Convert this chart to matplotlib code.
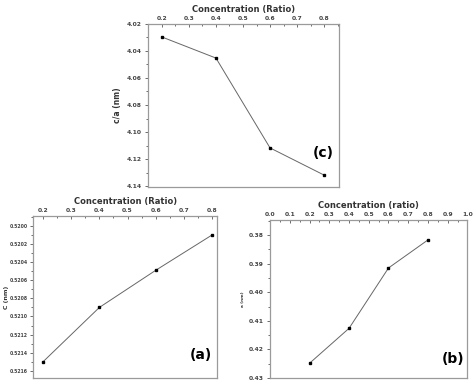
import matplotlib.pyplot as plt
from matplotlib.ticker import MultipleLocator

# concentration values shared by the three panels
conc = [0.2, 0.4, 0.6, 0.8]

# panel (a): lattice parameter c
c_vals = [0.52150, 0.52090, 0.52049, 0.52010]
c_ticks = [0.5200, 0.5202, 0.5204, 0.5206, 0.5208, 0.5210, 0.5212, 0.5214, 0.5216]

# panel (b): lattice parameter a
a_vals = [0.4248, 0.4126, 0.3915, 0.3817]
a_ticks = [0.38, 0.39, 0.40, 0.41, 0.42, 0.43]

# panel (c): c/a
ca_vals = [4.0297, 4.0453, 4.1117, 4.1318]
ca_ticks = [4.02, 4.04, 4.06, 4.08, 4.10, 4.12, 4.14]

x_ticks_short = [0.2, 0.3, 0.4, 0.5, 0.6, 0.7, 0.8]
x_ticks_long = [0.0, 0.1, 0.2, 0.3, 0.4, 0.5, 0.6, 0.7, 0.8, 0.9, 1.0]

SPINE = "#9a9a9a"


def style_panel(ax, xlabel, ylabel, xticks, yticks, fmt, label, label_pos):
    ax.xaxis.tick_top()
    ax.xaxis.set_label_position("top")
    ax.set_xticks(xticks)
    ax.set_xticklabels(["%.1f" % t for t in xticks])
    ax.set_yticks(yticks)
    ax.set_yticklabels([fmt % t for t in yticks])
    ax.invert_yaxis()
    ax.xaxis.set_minor_locator(MultipleLocator((xticks[1] - xticks[0]) / 2))
    ax.yaxis.set_minor_locator(MultipleLocator((yticks[1] - yticks[0]) / 2))
    ax.tick_params(axis="x", which="both", direction="in", labelsize=4.3,
                   pad=2, length=2.5, width=0.6, color="#555555")
    ax.tick_params(axis="x", which="minor", length=1.5)
    ax.tick_params(axis="y", which="both", direction="out", labelsize=4.3,
                   pad=2, length=2.5, width=0.6, color="#555555")
    ax.tick_params(axis="y", which="minor", length=1.5)
    for lab in ax.get_xticklabels() + ax.get_yticklabels():
        lab.set_fontweight("bold")
        lab.set_color("#444444")
    for s in ax.spines.values():
        s.set_color(SPINE)
        s.set_linewidth(0.9)
    ax.set_xlabel(xlabel, fontsize=6, fontweight="bold", color="#333333",
                  labelpad=3)
    ax.set_ylabel(ylabel, fontsize=5.5, fontweight="bold", color="#333333",
                  labelpad=3)
    ax.text(label_pos[0], label_pos[1], label, transform=ax.transAxes,
            fontsize=10, fontweight="bold", ha="center", va="center")


fig = plt.figure(figsize=(4.74, 3.85), dpi=100)

ax_c = fig.add_axes([0.312, 0.514, 0.403, 0.424])
ax_c.plot(conc, ca_vals, color="#666666", lw=0.7, marker="s", ms=1.8,
          mfc="black", mec="black")
ax_c.set_xlim(0.148, 0.855)
ax_c.set_ylim(4.02, 4.1407)
style_panel(ax_c, "Concentration (Ratio)", "c/a (nm)", x_ticks_short,
            ca_ticks, "%.2f", "(c)", (0.92, 0.21))

ax_a = fig.add_axes([0.070, 0.018, 0.388, 0.421])
ax_a.plot(conc, c_vals, color="#666666", lw=0.7, marker="s", ms=1.8,
          mfc="black", mec="black")
ax_a.set_xlim(0.165, 0.818)
ax_a.set_ylim(0.51989, 0.52168)
style_panel(ax_a, "Concentration (Ratio)", "C (nm)", x_ticks_short,
            c_ticks, "%.4f", "(a)", (0.91, 0.14))
ax_a.tick_params(axis="y", labelsize=3.3, pad=1.5)
ax_a.yaxis.label.set_fontsize(4.5)
ax_a.yaxis.set_label_coords(-0.13, 0.5)

ax_b = fig.add_axes([0.570, 0.018, 0.416, 0.410])
ax_b.plot(conc, a_vals, color="#666666", lw=0.7, marker="s", ms=1.8,
          mfc="black", mec="black")
ax_b.set_xlim(0.0, 1.0)
ax_b.set_ylim(0.3748, 0.4297)
style_panel(ax_b, "Concentration (ratio)", "a (nm)", x_ticks_long,
            a_ticks, "%.2f", "(b)", (0.93, 0.12))
ax_b.yaxis.label.set_fontsize(3)

fig.savefig("out.png", dpi=100)
